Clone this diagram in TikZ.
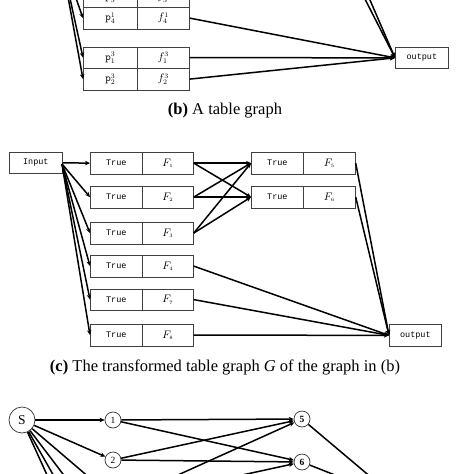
\documentclass[tikz,border=0pt]{standalone}
\usepackage{fontspec}
\setmainfont{Liberation Serif}
\newfontfamily\monof{Liberation Mono}
\usetikzlibrary{arrows.meta}
\begin{document}
\begin{tikzpicture}[x=1pt,y=-1pt,
  cell/.style={draw=black!75, line width=0.7pt, rectangle, inner sep=0pt, minimum height=21.5pt, anchor=north west, font=\monof\fontsize{8.5}{9}\selectfont},
  mcell/.style={cell, font=\fontsize{10.5}{11}\selectfont},
  lc/.style={cell, minimum width=52pt},
  rc/.style={mcell, minimum width=51pt},
  edge/.style={line width=1.5pt, black},
  arr/.style={edge, -{Stealth[length=5pt,width=4.5pt]}},
  circ/.style={draw=black!80, line width=0.7pt, circle, inner sep=0pt, minimum size=16pt, font=\fontsize{9.5}{10}\selectfont},
  captext/.style={font=\fontsize{16.5}{19}\selectfont, inner sep=0pt}
]
\useasboundingbox (0,0) rectangle (474,474);
\clip (0,0) rectangle (474,474);

% ---------- (b) table graph ----------
\coordinate (binp) at (60,-47);
\coordinate (bsrcA) at (345,-40);
\coordinate (bsrcB) at (357,-30);
\node[mcell, minimum width=54pt] (p31) at (83,-14.5) {$\mathtt{p}^{1}_{3}$};
\node[mcell, minimum width=52pt] (f31) at (137,-14.5) {$f^{1}_{3}$};
\node[mcell, minimum width=54pt] (p41) at (83,7) {$\mathtt{p}^{1}_{4}$};
\node[mcell, minimum width=52pt] (f41) at (137,7) {$f^{1}_{4}$};
\node[mcell, minimum width=54pt] (p13) at (83,46.5) {$\mathtt{p}^{3}_{1}$};
\node[mcell, minimum width=52pt] (f13) at (137,46.5) {$f^{3}_{1}$};
\node[mcell, minimum width=54pt] (p23) at (83,68) {$\mathtt{p}^{3}_{2}$};
\node[mcell, minimum width=52pt] (f23) at (137,68) {$f^{3}_{2}$};
\node[cell, minimum width=53pt, minimum height=21pt] (bout) at (395,47) {output};

\draw[arr] (binp) -- (p41.west);
\draw[arr] (binp) -- (p13.west);
\draw[arr] (binp) -- (p23.west);
\draw[arr] (f41.east) -- (bout.west);
\draw[arr] (f13.east) -- (bout.west);
\draw[arr] (f23.east) -- (bout.west);
\draw[arr] (bsrcA) -- (bout.west);
\draw[arr] (bsrcB) -- (bout.west);

\node[captext] (capb) at (225,111) {\textbf{(b)} A table graph};

% ---------- (c) transformed table graph ----------
\node[cell, minimum width=53pt, minimum height=21pt] (inp) at (9,152) {Input};
\coordinate (inpo) at (62,164);
\node[lc] (t1) at (90,152) {True};  \node[rc] (F1) at (142,152) {$F_{\scriptscriptstyle 1}$};
\node[lc] (t2) at (90,186) {True};  \node[rc] (F2) at (142,186) {$F_{\scriptscriptstyle 2}$};
\node[lc] (t3) at (90,222) {True};  \node[rc] (F3) at (142,222) {$F_{\scriptscriptstyle 3}$};
\node[lc] (t4) at (90,255) {True};  \node[rc] (F4) at (142,255) {$F_{\scriptscriptstyle 4}$};
\node[lc] (t7) at (90,288.5) {True};  \node[rc] (F7) at (142,288.5) {$F_{\scriptscriptstyle 7}$};
\node[lc] (t8) at (90,324) {True};  \node[rc] (F8) at (142,324) {$F_{\scriptscriptstyle 8}$};
\node[lc] (t5) at (251,152) {True}; \node[rc, minimum width=52pt] (F5) at (303,152) {$F_{\scriptscriptstyle 5}$};
\node[lc] (t6) at (251,186) {True}; \node[rc, minimum width=52pt] (F6) at (303,186) {$F_{\scriptscriptstyle 6}$};
\node[cell, minimum width=52pt, minimum height=22pt] (cout) at (389,324) {output};

\draw[arr] (inp.east) -- (t1.west);
\foreach \t in {t2,t3,t4,t7,t8} \draw[arr] (inpo) -- (\t.west);
\foreach \a in {F1,F2,F3} {
  \draw[arr] (\a.east) -- (t5.west);
  \draw[arr] (\a.east) -- (t6.west);
}
\foreach \a in {F5,F6,F4,F7,F8} \draw[arr] (\a.east) -- (cout.west);

\node[captext] (capc) at (225,367) {\textbf{(c)} The transformed table graph \textit{G} of the graph in (b)};

% ---------- (d) graph ----------
\node[circ, minimum size=26pt, font=\fontsize{13.5}{14}\selectfont] (S) at (22,420) {S};
\node[circ] (n1) at (113,420) {1};
\node[circ] (n2) at (113,460) {2};
\node[circ] (n3) at (118,502) {3};
\node[circ] (n4) at (113,540) {4};
\node[circ] (n7) at (113,580) {7};
\node[circ] (n8) at (113,620) {8};
\node[circ, font=\bfseries\fontsize{9.5}{10}\selectfont] (n5) at (302,419) {5};
\node[circ, font=\bfseries\fontsize{9.5}{10}\selectfont] (n6) at (302,462) {6};
\node[circ] (T) at (398,500) {};

\foreach \n in {n1,n2,n3,n4,n7,n8} \draw[arr] (S) -- (\n);
\foreach \a in {n1,n2,n3} {
  \draw[arr] (\a) -- (n5);
  \draw[arr] (\a) -- (n6);
}
\draw[arr] (n5) -- (T);
\draw[arr] (n6) -- (T);
\end{tikzpicture}
\end{document}
